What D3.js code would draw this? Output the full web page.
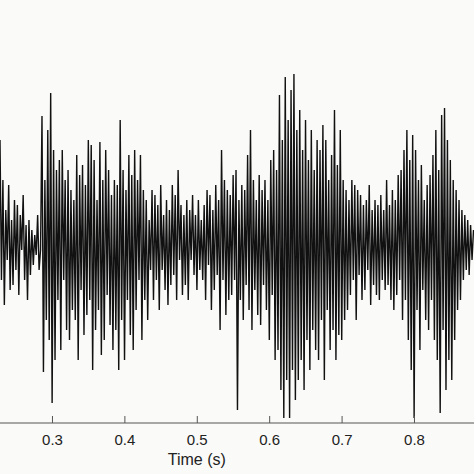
<!DOCTYPE html>
<html lang="en">
<head>
<meta charset="UTF-8">
<script src="https://unpkg.com/d3@7/dist/d3.min.js"></script>
<style>
  body { margin: 0; background: #fafaf8; }
  svg { display: block; }
</style>
</head>
<body>
<script>
// Sampled signal (2 ms step), amplitude in arbitrary units
var t0 = 0.2282;
var dt = 0.002;
var signal = [
  100,-40,60,-65,30,-20,55,-50,20,-45,40,-30,35,-55,25,-10,45,-40,15,-60,
  20,-35,10,-25,5,-15,25,-30,-10,124,-132,60,-80,110,-100,147,-163,90,-120,70,
  -60,80,-110,90,-40,60,-90,70,-100,50,-70,40,-80,85,-120,65,-50,75,-95,55,
  -75,100,-60,95,-130,80,-90,40,-70,98,-115,60,-100,90,-55,70,-85,45,-110,60,
  -90,55,-130,120,-80,70,-120,50,-60,85,-95,65,-110,90,-70,60,-40,85,-100,50,
  -60,40,-80,20,-30,50,-60,45,-40,35,-70,55,-30,25,-50,40,-65,30,-45,55,
  -35,45,-60,70,-20,35,-55,25,-45,40,-60,30,-20,45,-35,25,-50,40,-30,20,
  -40,35,-60,50,-25,45,-70,30,-50,55,-35,40,-90,90,-40,60,-75,50,-60,45,
  -55,65,-40,70,-170,40,-60,55,-80,50,-45,85,-70,110,-90,60,-50,40,-75,65,
  -85,50,-45,60,-70,40,-100,80,-55,90,-120,70,-110,145,-150,100,-178,163,-140,120,
  -178,150,-130,166,-160,110,-140,130,-120,90,-150,120,-100,80,-130,110,-90,70,-110,100,
  -120,90,-80,115,-140,100,-70,60,-110,85,-90,130,-120,75,-95,110,-100,60,-80,50,
  -70,40,-55,60,-40,55,-80,50,-35,45,-60,35,-50,40,-30,55,-65,30,-45,40,
  -55,35,-60,45,-40,30,-50,60,-45,35,-60,50,-70,40,-55,65,-40,70,-80,90,
  -60,110,-100,80,-130,105,-178,90,-70,60,-110,75,-50,40,-80,55,-90,65,-60,85,
  -100,110,-120,70,-173,125,-90,132,-150,100,-120,80,-140,60,-100,50,-70,40,-60,30,
  -40,25,-30,20,-35,15,-20,10
];
var tickValues = [0.3, 0.4, 0.5, 0.6, 0.7, 0.8, 0.9];

var width = 474, height = 474;
var axisY = 423;

var svg = d3.select("body").append("svg")
    .attr("width", width)
    .attr("height", height);

var x = d3.scaleLinear().domain([0.2282, 0.8829]).range([0, width]);
var y = d3.scaleLinear().domain([-183, 183]).range([axisY, 57]);

var line = d3.line()
    .x(function(d, i) { return x(t0 + i * dt); })
    .y(function(d) { return y(d); });

svg.append("path")
    .datum(signal)
    .attr("fill", "none")
    .attr("stroke", "#111")
    .attr("stroke-width", 1.4)
    .attr("d", line);

// Bottom axis with inward ticks
var axis = svg.append("g")
    .attr("transform", "translate(0," + axisY + ")")
    .call(d3.axisBottom(x).tickValues(tickValues).tickSizeInner(-7).tickSizeOuter(0).tickPadding(6)
        .tickFormat(d3.format(".1f")));
axis.select(".domain").attr("stroke", "#555").attr("d", "M0,0H" + width);
axis.selectAll(".tick line").attr("stroke", "#555");
axis.selectAll(".tick text")
    .attr("fill", "#222")
    .attr("dy", "1.05em")
    .style("font-family", "Liberation Sans, Arial, sans-serif")
    .style("font-size", "15px");

svg.append("text")
    .attr("x", x(0.5))
    .attr("y", 465)
    .attr("text-anchor", "middle")
    .attr("fill", "#222")
    .style("font-family", "Liberation Sans, Arial, sans-serif")
    .style("font-size", "16px")
    .text("Time (s)");
</script>
</body>
</html>
